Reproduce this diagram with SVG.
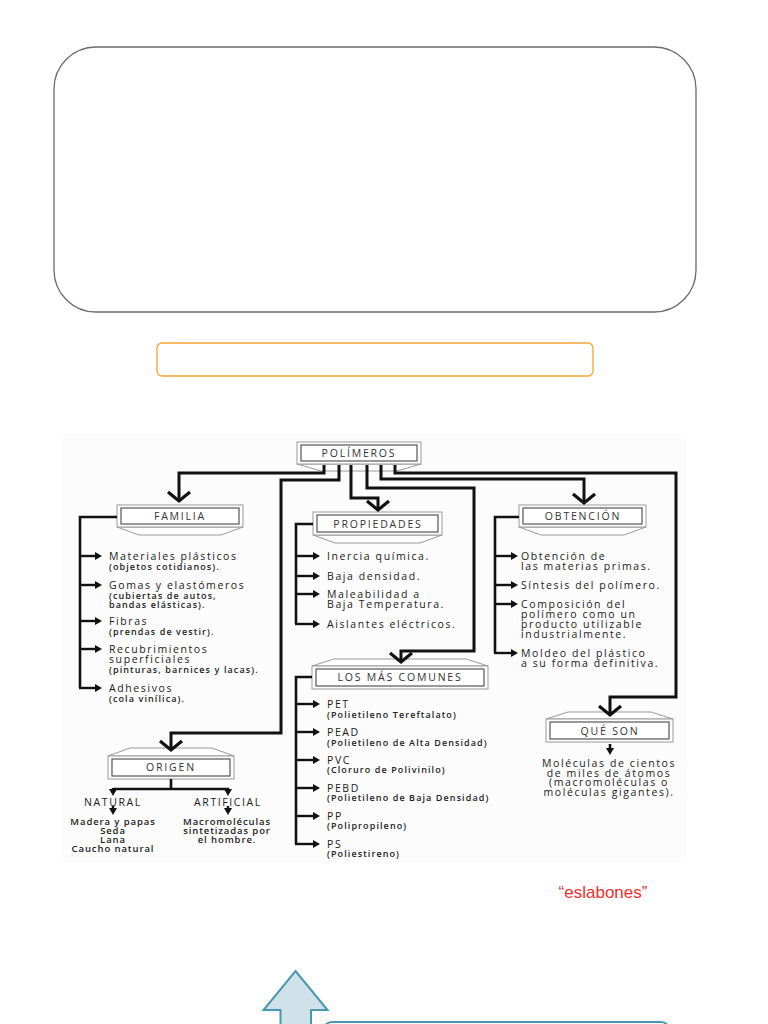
<svg xmlns="http://www.w3.org/2000/svg" width="768" height="1024" viewBox="0 0 768 1024">
<defs>
<style>
.frame{fill:#fff;stroke:#6b6b6b;stroke-width:1.3}
.orange{fill:#fff;stroke:#f5a530;stroke-width:1.3}
.outer{fill:#fff;stroke:#999;stroke-width:1}
.inner{fill:none;stroke:#555;stroke-width:1.2}
.trap{fill:#fff;stroke:#999;stroke-width:1}
.lbl{font-family:"Open Sans","Liberation Sans",sans-serif;font-size:10.5px;letter-spacing:1.8px;fill:#333;text-anchor:middle}
.m{font-family:"Open Sans","Liberation Sans",sans-serif;font-size:10.5px;letter-spacing:1.6px;fill:#1a1a1a}
.s{font-family:"Open Sans","Liberation Sans",sans-serif;font-size:9px;font-weight:600;letter-spacing:1.1px;fill:#222}
.mc{font-family:"Open Sans","Liberation Sans",sans-serif;font-size:10.5px;letter-spacing:1.6px;fill:#1a1a1a;text-anchor:middle}
.sc{font-family:"Open Sans","Liberation Sans",sans-serif;font-size:9.5px;font-weight:600;letter-spacing:0.9px;fill:#222;text-anchor:middle}
.conn{fill:none;stroke:#111;stroke-width:3;stroke-linejoin:miter}
.spine{fill:none;stroke:#111;stroke-width:2.6}
.bul{fill:none;stroke:#111;stroke-width:2.4}
.red{font-family:"Liberation Sans",Arial,sans-serif;font-size:17px;fill:#f0302e;text-anchor:middle}
.teal{fill:#cfe2ea;stroke:#4a98ae;stroke-width:2}
</style>
<marker id="chev" markerUnits="userSpaceOnUse" orient="auto" overflow="visible" refX="0" refY="0" markerWidth="1" markerHeight="1">
<path d="M-9,-11 L0,0 L-9,11" fill="none" stroke="#111" stroke-width="3.2"/>
</marker>
<marker id="tri" markerUnits="userSpaceOnUse" orient="auto" overflow="visible" refX="0" refY="0" markerWidth="1" markerHeight="1">
<path d="M-2,-4 L5,0 L-2,4 Z" fill="#111"/>
</marker>
</defs>

<rect width="768" height="1024" fill="#fff"/>

<g id="top-frame">
<rect class="frame" x="54" y="47" width="642" height="265" rx="42" ry="42"/>
</g>
<g id="orange-box">
<rect class="orange" x="157" y="343" width="436" height="33" rx="5" ry="5"/>
</g>

<rect x="63" y="433" width="624" height="430" fill="#fcfcfc"/>

<g id="n-polimeros">
<polygon class="trap" points="297,464 421,464 397,471 321,471"/>
<rect class="outer" x="297" y="442" width="124" height="22"/>
<rect class="inner" x="301" y="445" width="116" height="16"/>
<text class="lbl" x="359" y="457">POLÍMEROS</text>
</g>

<g id="n-familia">
<polygon class="trap" points="117,527 243,527 221,535 139,535"/>
<rect class="outer" x="117" y="505" width="126" height="22"/>
<rect class="inner" x="121" y="508" width="118" height="16"/>
<text class="lbl" x="180" y="520">FAMILIA</text>
</g>

<g id="n-propiedades">
<polygon class="trap" points="313,535 442,535 420,543 335,543"/>
<rect class="outer" x="313" y="512" width="129" height="23"/>
<rect class="inner" x="317" y="515" width="121" height="17"/>
<text class="lbl" x="378" y="528">PROPIEDADES</text>
</g>

<g id="n-obtencion">
<polygon class="trap" points="519,527 646,527 624,535 541,535"/>
<rect class="outer" x="519" y="505" width="127" height="22"/>
<rect class="inner" x="523" y="508" width="119" height="16"/>
<text class="lbl" x="583" y="520">OBTENCIÓN</text>
</g>

<g id="n-comunes">
<polygon class="trap" points="312,666 488,666 466,659 334,659"/>
<rect class="outer" x="312" y="666" width="176" height="23"/>
<rect class="inner" x="316" y="669" width="168" height="17"/>
<text class="lbl" x="400" y="681">LOS MÁS COMUNES</text>
</g>

<g id="n-origen">
<polygon class="trap" points="108,756 234,756 212,748 130,748"/>
<rect class="outer" x="108" y="756" width="126" height="23"/>
<rect class="inner" x="112" y="759" width="118" height="17"/>
<text class="lbl" x="171" y="771">ORIGEN</text>
</g>

<g id="n-queson">
<polygon class="trap" points="546,719 673,719 651,712 568,712"/>
<rect class="outer" x="546" y="719" width="127" height="23"/>
<rect class="inner" x="550" y="722" width="119" height="17"/>
<text class="lbl" x="610" y="734.5">QUÉ SON</text>
</g>

<g id="connectors">
<path class="conn" d="M324,465 V473 H179 V501" marker-end="url(#chev)"/>
<path class="conn" d="M339,465 V480 H281 V733 H171 V750" marker-end="url(#chev)"/>
<path class="conn" d="M351,465 V498 H378 V510" marker-end="url(#chev)"/>
<path class="conn" d="M367,465 V488 H474 V651 H401 V662" marker-end="url(#chev)"/>
<path class="conn" d="M381,465 V479 H584 V503" marker-end="url(#chev)"/>
<path class="conn" d="M395,465 V473 H676 V697 H610 V715" marker-end="url(#chev)"/>

<path class="spine" d="M117,517 H80 V688"/>
<path class="bul" d="M80,556 H97" marker-end="url(#tri)"/>
<path class="bul" d="M80,585 H97" marker-end="url(#tri)"/>
<path class="bul" d="M80,621 H97" marker-end="url(#tri)"/>
<path class="bul" d="M80,649 H97" marker-end="url(#tri)"/>
<path class="bul" d="M79,688 H97" marker-end="url(#tri)"/>

<path class="spine" d="M313,524 H296 V624"/>
<path class="bul" d="M296,556 H315" marker-end="url(#tri)"/>
<path class="bul" d="M296,576 H315" marker-end="url(#tri)"/>
<path class="bul" d="M296,594 H315" marker-end="url(#tri)"/>
<path class="bul" d="M295,624 H315" marker-end="url(#tri)"/>

<path class="spine" d="M519,517 H495 V653"/>
<path class="bul" d="M495,556 H513" marker-end="url(#tri)"/>
<path class="bul" d="M495,585 H513" marker-end="url(#tri)"/>
<path class="bul" d="M495,604 H513" marker-end="url(#tri)"/>
<path class="bul" d="M494,653 H513" marker-end="url(#tri)"/>

<path class="spine" d="M312,677 H296 V844"/>
<path class="bul" d="M296,704 H315" marker-end="url(#tri)"/>
<path class="bul" d="M296,732 H315" marker-end="url(#tri)"/>
<path class="bul" d="M296,760 H315" marker-end="url(#tri)"/>
<path class="bul" d="M296,788 H315" marker-end="url(#tri)"/>
<path class="bul" d="M296,816 H315" marker-end="url(#tri)"/>
<path class="bul" d="M295,844 H315" marker-end="url(#tri)"/>

<path class="spine" d="M171,779 V789"/>
<path class="bul" d="M113,789 H229"/>
<path class="bul" d="M113,788 V791" marker-end="url(#tri)"/>
<path class="bul" d="M228,788 V791" marker-end="url(#tri)"/>
<path class="bul" d="M113,806 V810" marker-end="url(#tri)"/>
<path class="bul" d="M228,806 V810" marker-end="url(#tri)"/>
<path class="spine" d="M610,744 V750" marker-end="url(#tri)"/>
</g>

<g id="t-familia">
<text class="m" x="109" y="560">Materiales plásticos</text>
<text class="s" x="109" y="569.5">(objetos cotidianos).</text>
<text class="m" x="109" y="589">Gomas y elastómeros</text>
<text class="s" x="109" y="598.5">(cubiertas de autos,</text>
<text class="s" x="109" y="608">bandas elásticas).</text>
<text class="m" x="109" y="625">Fibras</text>
<text class="s" x="109" y="634.5">(prendas de vestir).</text>
<text class="m" x="109" y="653">Recubrimientos</text>
<text class="m" x="109" y="663">superficiales</text>
<text class="s" x="109" y="672.5">(pinturas, barnices y lacas).</text>
<text class="m" x="109" y="692">Adhesivos</text>
<text class="s" x="109" y="701.5">(cola vinílica).</text>
</g>

<g id="t-propiedades">
<text class="m" x="327" y="560">Inercia química.</text>
<text class="m" x="327" y="580">Baja densidad.</text>
<text class="m" x="327" y="598">Maleabilidad a</text>
<text class="m" x="327" y="608">Baja Temperatura.</text>
<text class="m" x="327" y="628">Aislantes eléctricos.</text>
</g>

<g id="t-obtencion">
<text class="m" x="521" y="560">Obtención de</text>
<text class="m" x="521" y="570">las materias primas.</text>
<text class="m" x="521" y="589">Síntesis del polímero.</text>
<text class="m" x="521" y="608">Composición del</text>
<text class="m" x="521" y="618">polímero como un</text>
<text class="m" x="521" y="628">producto utilizable</text>
<text class="m" x="521" y="638">industrialmente.</text>
<text class="m" x="521" y="657">Moldeo del plástico</text>
<text class="m" x="521" y="667">a su forma definitiva.</text>
</g>

<g id="t-comunes">
<text class="m" x="327" y="708">PET</text>
<text class="s" x="327" y="717.5">(Polietileno Tereftalato)</text>
<text class="m" x="327" y="736">PEAD</text>
<text class="s" x="327" y="745.5">(Polietileno de Alta Densidad)</text>
<text class="m" x="327" y="764">PVC</text>
<text class="s" x="327" y="773">(Cloruro de Polivinilo)</text>
<text class="m" x="327" y="792">PEBD</text>
<text class="s" x="327" y="801">(Polietileno de Baja Densidad)</text>
<text class="m" x="327" y="820">PP</text>
<text class="s" x="327" y="829">(Polipropileno)</text>
<text class="m" x="327" y="848">PS</text>
<text class="s" x="327" y="857">(Poliestireno)</text>
</g>

<g id="t-origen">
<text class="mc" x="113" y="806">NATURAL</text>
<text class="mc" x="228" y="806">ARTIFICIAL</text>
<text class="sc" x="113" y="824.5">Madera y papas</text>
<text class="sc" x="113" y="833.5">Seda</text>
<text class="sc" x="113" y="842.5">Lana</text>
<text class="sc" x="113" y="851.5">Caucho natural</text>
<text class="sc" x="227" y="824.5">Macromoléculas</text>
<text class="sc" x="227" y="833.5">sintetizadas por</text>
<text class="sc" x="227" y="842.5">el hombre.</text>
</g>

<g id="t-queson">
<text class="mc" x="609" y="766.5">Moléculas de cientos</text>
<text class="mc" x="609" y="776.5">de miles de átomos</text>
<text class="mc" x="609" y="785.5">(macromoléculas o</text>
<text class="mc" x="609" y="795.5">moléculas gigantes).</text>
</g>

<g id="eslabones">
<text class="red" x="603" y="898">“eslabones”</text>
</g>

<g id="up-arrow">
<polygon class="teal" points="295.5,971 327.5,1010 311,1010 311,1030 280.5,1030 280.5,1010 263.5,1010"/>
</g>
<g id="bottom-box">
<rect x="323" y="1022" width="347" height="40" rx="9" ry="9" fill="#fff" stroke="#4a98ae" stroke-width="2"/>
</g>
</svg>
